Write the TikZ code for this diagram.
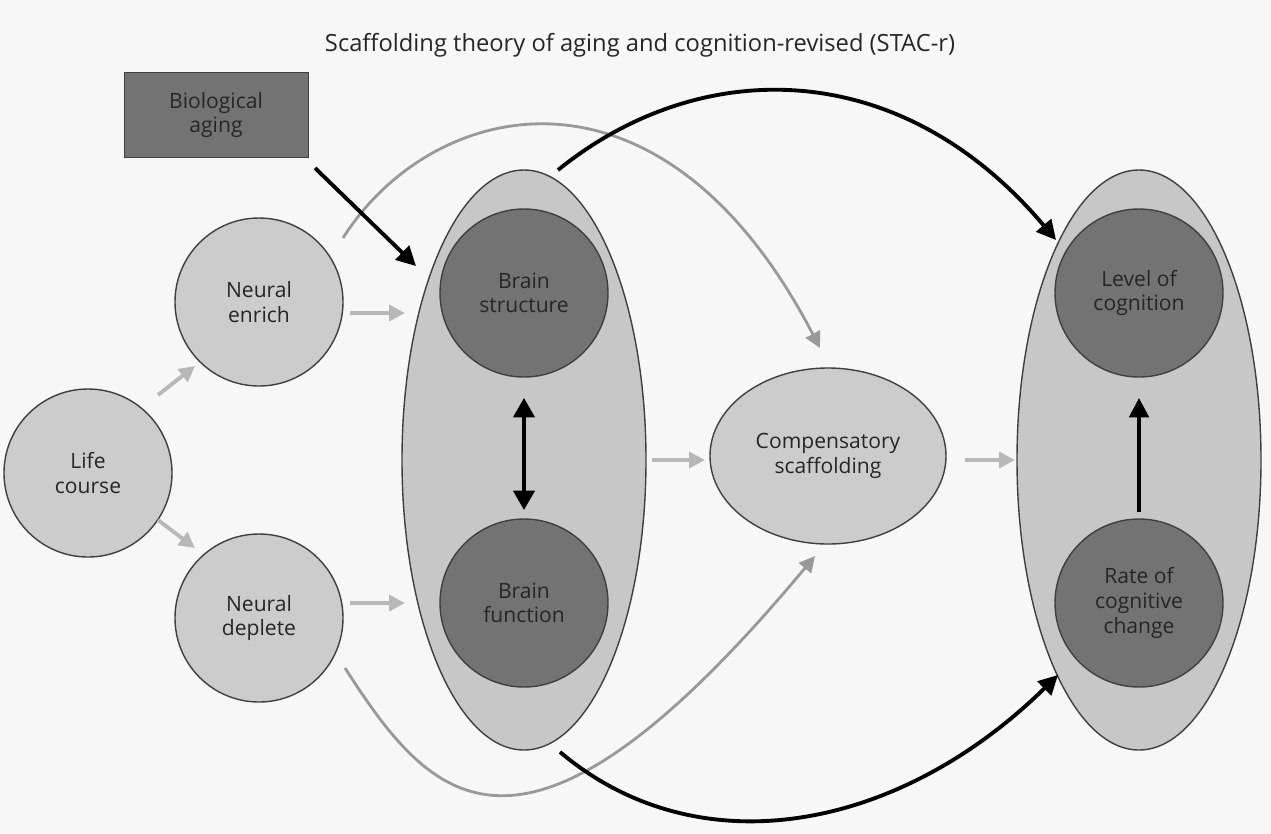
\documentclass[tikz,border=0pt]{standalone}
\usepackage{fontspec}
\setmainfont{Open Sans}
\usetikzlibrary{shapes.geometric,arrows.meta,calc}
\begin{document}
\begin{tikzpicture}[x=0.02cm,y=-0.02cm,
  txt/.style={font=\fontsize{12}{14}\selectfont, text=black!85, align=center},
  lc/.style={circle, draw=black!75, line width=0.8pt, fill=black!20, minimum size=168*0.02cm, inner sep=0pt, txt},
  dc/.style={circle, draw=black!75, line width=0.8pt, fill=black!55, minimum size=168*0.02cm, inner sep=0pt, txt},
  big/.style={ellipse, draw=black!75, line width=0.8pt, fill=black!22, minimum width=244*0.02cm, minimum height=580*0.02cm, inner sep=0pt},
  ga/.style={-{Triangle[length=9pt,width=9pt]}, draw=black!28, line width=2.2pt},
  ba/.style={-{Triangle[length=11pt,width=11pt]}, draw=black, line width=2.2pt},
  gc/.style={-{Triangle[length=9pt,width=9pt]}, draw=black!40, line width=1.6pt}]
\useasboundingbox[fill=black!3] (0,0) rectangle (1271,833);
\node[txt, font=\fontsize{13.5}{16}\selectfont] (title) at (640,45) {Scaffolding theory of aging and cognition-revised (STAC-r)};
\node[draw=black!75, fill=black!55, minimum width=184*0.02cm, minimum height=85*0.02cm, inner sep=0pt, txt] (bio) at (216,115) {Biological\\aging};
\node[lc] (enrich) at (259,302) {Neural\\enrich};
\node[lc] (life) at (88,473) {Life\\course};
\node[lc] (deplete) at (259,618) {Neural\\deplete};
\node[big] (brain) at (524,460) {};
\node[dc] (struct) at (524,293) {Brain\\structure};
\node[dc] (func) at (524,603) {Brain\\function};
\node[ellipse, draw=black!75, line width=0.8pt, fill=black!20, minimum width=236*0.02cm, minimum height=176*0.02cm, inner sep=0pt, txt] (comp) at (828,456) {Compensatory\\scaffolding};
\node[big] (cog) at (1139,460) {};
\node[dc] (level) at (1139,293) {Level of\\cognition};
\node[dc] (rate) at (1139,603) {Rate of\\cognitive\\change};
\coordinate (a1) at (158,395); \coordinate (a2) at (195,366);
\draw[ga] (a1) -- (a2);
\coordinate (b1) at (158,520); \coordinate (b2) at (195,548);
\draw[ga] (b1) -- (b2);
\coordinate (c1) at (350,313); \coordinate (c2) at (405,313);
\draw[ga] (c1) -- (c2);
\coordinate (d1) at (350,603); \coordinate (d2) at (405,603);
\draw[ga] (d1) -- (d2);
\coordinate (e1) at (652,460); \coordinate (e2) at (705,460);
\draw[ga] (e1) -- (e2);
\coordinate (f1) at (965,460); \coordinate (f2) at (1015,460);
\draw[ga] (f1) -- (f2);
\coordinate (g1) at (343,238); \coordinate (g2) at (820,348);
\draw[gc] (g1) .. controls (430,100) and (660,40) .. (g2);
\coordinate (h1) at (345,668); \coordinate (h2) at (815,556);
\draw[gc] (h1) .. controls (430,800) and (520,910) .. (h2);
\coordinate (i1) at (315,168); \coordinate (i2) at (416,266);
\draw[ba] (i1) -- (i2);
\coordinate (j1) at (558,170); \coordinate (j2) at (1056,240);
\draw[ba] (j1) .. controls (700,55) and (900,55) .. (j2);
\coordinate (k1) at (560,752); \coordinate (k2) at (1058,675);
\draw[ba] (k1) .. controls (700,870) and (900,830) .. (k2);
\coordinate (m1) at (524,398); \coordinate (m2) at (524,510);
\draw[{Triangle[length=11pt,width=12pt]}-{Triangle[length=11pt,width=12pt]}, line width=2.2pt] (m1) -- (m2);
\coordinate (n1) at (1139,512); \coordinate (n2) at (1139,398);
\draw[ba] (n1) -- (n2);
\end{tikzpicture}
\end{document}
